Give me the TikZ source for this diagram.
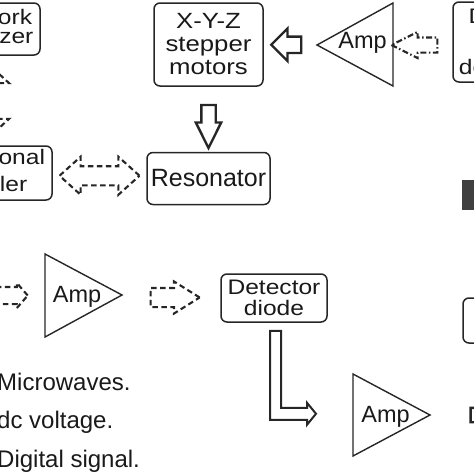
\documentclass[tikz,border=0pt]{standalone}
\usepackage{fontspec}
\setmainfont{Liberation Sans}
\newfontfamily\boxfont{Liberation Sans}[FakeStretch=1.17]
\usetikzlibrary{arrows,positioning,shapes.arrows,calc}

\tikzset{
  box/.style={draw=black!85, line width=1.5pt, rounded corners=6pt, align=center, inner sep=0pt, text=black!90},
  ampline/.style={draw=black!85, line width=1.4pt, line join=miter},
  amptext/.style={anchor=base, inner sep=0pt, text=black!90, font=\fontsize{23.5}{26}\selectfont},
  legend/.style={anchor=base west, inner sep=0pt, text=black!90, font=\fontsize{24}{28}\selectfont},
  sarr/.style n args={4}{single arrow, inner sep=#1pt, single arrow head extend=#2pt, minimum width={2*(#1+#2)*1pt}, minimum height=#3pt, single arrow tip angle=#4},
  darr/.style n args={4}{double arrow, inner sep=#1pt, double arrow head extend=#2pt, minimum width={2*(#1+#2)*1pt}, minimum height=#3pt, double arrow tip angle=#4},
  mw/.style={draw=black!85, line width=2.1pt, dash pattern=on 5.5pt off 3.5pt, line join=miter},
  dcv/.style={draw=black!85, line width=2.4pt, line join=miter},
  dig/.style={draw=black!85, line width=2.1pt, dash pattern=on 6pt off 2.5pt on 1.5pt off 2.5pt, line join=miter}
}

\begin{document}
\begin{tikzpicture}[x=1pt,y=-1pt,>=stealth',node distance=10pt]

    \useasboundingbox (0,0) rectangle (474,474);
    \clip (0,0) rectangle (474,474);

    % boxes
    \node[box, minimum width=109pt, minimum height=83pt, font=\boxfont\fontsize{22}{23}\selectfont] (xyz) at (208.5,44.5) {X-Y-Z\\stepper\\motors};

    \node[box, minimum width=123pt, minimum height=52pt, font=\fontsize{25}{28}\selectfont] (res) [below=65pt of xyz] {Resonator};

    \node[box, minimum width=130pt, minimum height=54pt, font=\boxfont\fontsize{21}{27}\selectfont] (coupler) at (-13,173) {Directional\\coupler};

    \node[box, minimum width=106pt, minimum height=52pt, font=\boxfont\fontsize{21}{19}\selectfont] (analyzer) at (-13,29) {Network\\analyzer};

    \node[box, minimum width=83pt, minimum height=80pt, font=\boxfont\fontsize{21}{25.5}\selectfont] (daq) at (494.5,42) {Data\\I/O\\device};

    \node[box, minimum width=106pt, minimum height=48pt, font=\boxfont\fontsize{21}{21}\selectfont] (diode) at (274,298) {Detector\\diode};

    \node[box, minimum width=80pt, minimum height=45pt] (rbox) at (503,320.5) {};

    \fill[black!75] (462,180) rectangle (480,210);

    % amplifiers
    \draw[ampline] (393,3) -- (317,45) coordinate (ampAtip) -- (393,86) -- cycle;
    \node[amptext] (ampA) at (362.5,48) {Amp};

    \draw[ampline] (45,254) -- (122,295) coordinate (ampBtip) -- (45,337) -- cycle;
    \node[amptext] (ampB) at (77,302) {Amp};

    \draw[ampline] (353,374) -- (430,415) coordinate (ampCtip) -- (353,456) -- cycle;
    \node[amptext] (ampC) at (385.5,422) {Amp};

    % signal arrows
    \node[mw, darr={8.5}{9.5}{80}{84}] (a1) at ($(coupler.east)!0.5!(res.west)$) {};
    \node[mw, darr={9}{13}{78}{95}, shape border rotate=90] (a2) at (-14,101) {};
    \node[mw, sarr={7.5}{4}{44}{98}] (a3) at (2,295.5) {};
    \node[mw, sarr={8.5}{6.5}{49}{64}] (a4) at (167.5,297.5) {};

    \node[dcv, sarr={7}{8}{30}{90}, shape border rotate=180] (a5) at ($(xyz.east)!0.5!(ampAtip)$) {};
    \node[dcv, sarr={6}{5.5}{43}{53}, shape border rotate=270] (a6) at ($(xyz.south)!0.5!(res.north)$) {};
    \node[dcv, sarr={6}{9}{40}{90}] (a7) at (487,415) {};

    \node[dig, sarr={6.5}{5.5}{46}{53}, shape border rotate=180] (a8) at (422,45) {};

    \draw[draw=black!85, line width=2pt, line join=miter] ([shift={(-4,8)}]diode.south) -- ++(11,0) -- ++(0,77) -- ++(26,0) -- ++(0,-5) -- ++(9,11) -- ++(-9,11) -- ++(0,-5) -- ++(-37,0) -- cycle;

    % legend
    \foreach \txt/\yy [count=\i] in {Microwaves./390, dc voltage./428, Digital signal./467}
    {
        \node[legend] (leg\i) at (-3,\yy) {\txt};
      }

\end{tikzpicture}
\end{document}
